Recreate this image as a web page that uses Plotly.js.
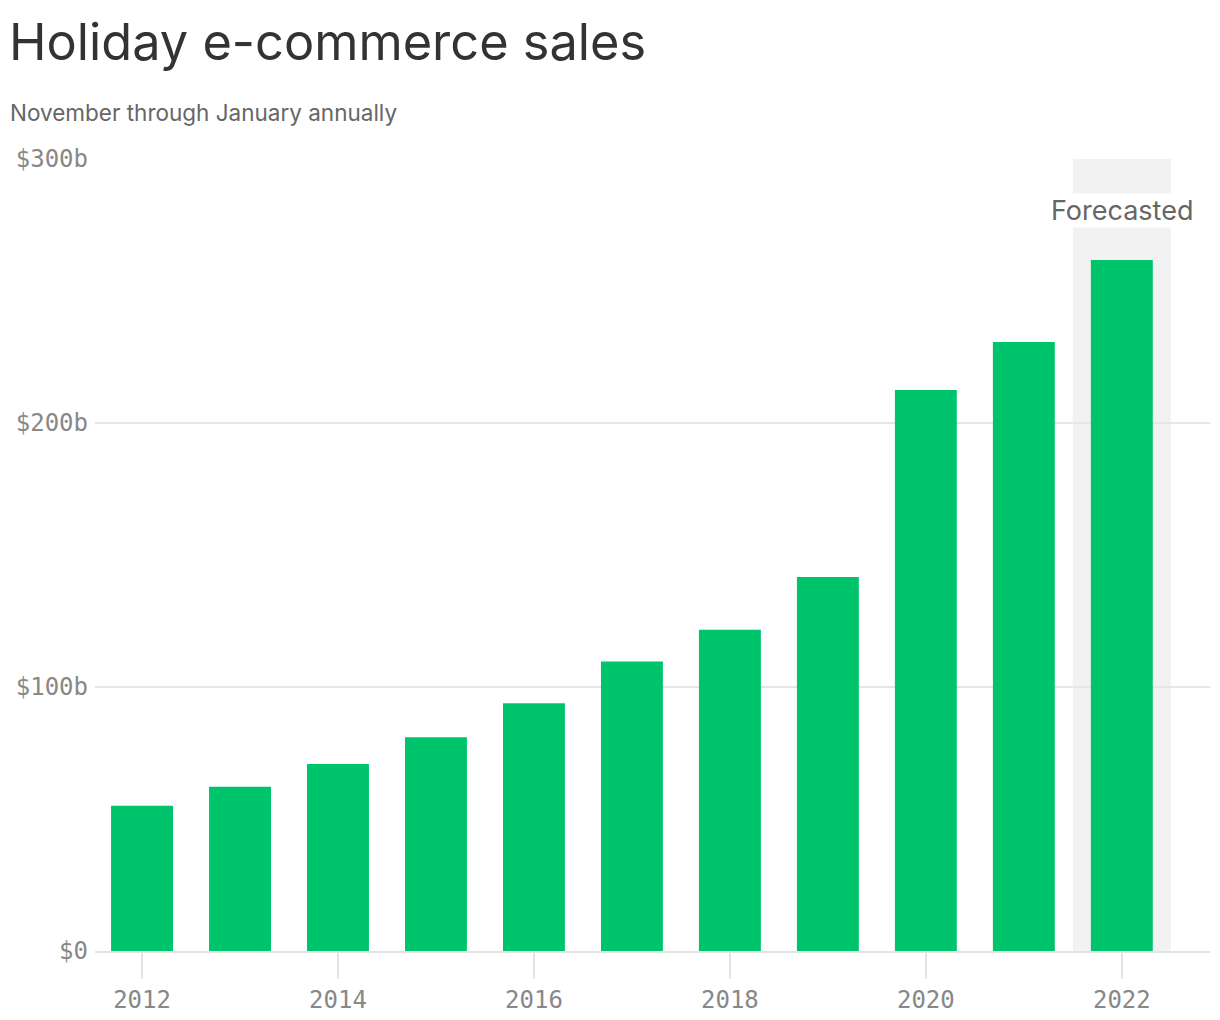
<!DOCTYPE html>
<html>
<head>
<meta charset="utf-8">
<script src="https://cdn.plot.ly/plotly-3.0.1.min.js"></script>
<style>
  html, body { margin: 0; padding: 0; background: #fff; }
  #myDiv { width: 1220px; height: 1020px; }
</style>
</head>
<body>
<div id="myDiv"></div>
<script>
  // holiday e-commerce sales, billions of dollars (Nov - Jan)
  var years = [2012, 2013, 2014, 2015, 2016, 2017, 2018, 2019, 2020, 2021, 2022];
  var sales = [55, 62.2, 70.8, 81, 93.8, 109.7, 121.7, 141.7, 212.5, 230.7, 261.7];
  var xTicks = [2012, 2014, 2016, 2018, 2020, 2022];
  var yTicks = [0, 100, 200, 300];
  var yTickText = ['$0', '$100b', '$200b', '$300b'];
  var forecastYear = 2022;

  var green = '#00c46b';
  var mono = "'DejaVu Sans Mono', monospace";
  var sans = "Inter, 'Noto Sans', sans-serif";

  var data = [
    {
      type: 'bar',
      x: years,
      y: sales,
      width: 0.632,
      marker: { color: green },
      hoverinfo: 'none'
    }
  ];

  var layout = {
    width: 1220,
    height: 1020,
    margin: { l: 95, r: 10, t: 159, b: 69 },
    paper_bgcolor: '#fff',
    plot_bgcolor: '#fff',
    showlegend: false,
    title: {
      text: 'Holiday e-commerce sales',
      xref: 'container', x: 9 / 1220, xanchor: 'left',
      yref: 'container', y: 1 - 42 / 1020, yanchor: 'middle',
      font: { family: sans, size: 50.5, color: '#333333' }
    },
    xaxis: {
      range: [2011.52, 2022.9],
      tickvals: xTicks,
      ticks: 'outside', ticklen: 26, tickwidth: 2, tickcolor: '#e3e3e3',
      showline: true, linecolor: '#e3e3e3', linewidth: 2,
      showgrid: false, zeroline: false,
      tickfont: { family: mono, size: 24, color: '#888888' },
      fixedrange: true
    },
    yaxis: {
      range: [0, 300],
      tickvals: yTicks,
      ticktext: yTickText,
      ticks: '',
      showgrid: true, gridcolor: '#e6e6e6', gridwidth: 2,
      zeroline: false, showline: false,
      ticklabelstandoff: 6,
      tickfont: { family: mono, size: 24, color: '#888888' },
      fixedrange: true
    },
    shapes: [
      {
        type: 'rect', layer: 'below',
        xref: 'x', yref: 'y',
        x0: forecastYear - 0.5, x1: forecastYear + 0.5,
        y0: 0, y1: 300,
        fillcolor: '#f2f2f2', line: { width: 0 }
      }
    ],
    annotations: [
      {
        xref: 'paper', yref: 'paper',
        x: -87 / 1116, y: (951 - 112) / 792,
        xanchor: 'left', yanchor: 'middle',
        text: 'November through January annually',
        showarrow: false,
        font: { family: sans, size: 22.5, color: '#666666' }
      },
      {
        xref: 'x', yref: 'y',
        x: forecastYear, y: 280.5,
        text: 'Forecasted',
        showarrow: false,
        bgcolor: '#ffffff',
        borderpad: 0,
        font: { family: sans, size: 27, color: '#666666' }
      }
    ]
  };

  Plotly.newPlot('myDiv', data, layout, { displayModeBar: false, staticPlot: true });
</script>
</body>
</html>
